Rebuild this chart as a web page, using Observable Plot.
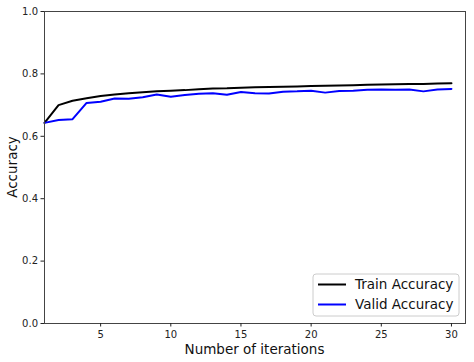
<!DOCTYPE html>
<html>
<head>
<meta charset="utf-8">
<script src="https://cdn.jsdelivr.net/npm/d3@7"></script>
<script src="https://cdn.jsdelivr.net/npm/@observablehq/plot@0.6"></script>
<style>
  body { margin: 0; background: #fff; }
  #chart svg { font-family: "DejaVu Sans", sans-serif; }
</style>
</head>
<body>
<div id="chart"></div>
<script>
const iterations = d3.range(1, 31);
const trainAccuracy = [0.643, 0.700, 0.714, 0.722, 0.729, 0.734, 0.738, 0.741, 0.744, 0.746,
  0.748, 0.751, 0.753, 0.754, 0.756, 0.757, 0.758, 0.759, 0.760, 0.761,
  0.762, 0.763, 0.764, 0.765, 0.766, 0.767, 0.768, 0.768, 0.769, 0.770];
const validAccuracy = [0.643, 0.652, 0.655, 0.707, 0.711, 0.721, 0.720, 0.725, 0.734, 0.727,
  0.732, 0.736, 0.738, 0.733, 0.742, 0.738, 0.737, 0.743, 0.744, 0.746,
  0.740, 0.745, 0.746, 0.749, 0.750, 0.749, 0.750, 0.744, 0.750, 0.752];
const seriesNames = ["Train Accuracy", "Valid Accuracy"];
const seriesColors = ["#000000", "#0000ff"];
const xTicks = [5, 10, 15, 20, 25, 30];
const yTicks = [0, 0.2, 0.4, 0.6, 0.8, 1.0];

const rows = [];
iterations.forEach((it, i) => {
  rows.push({iter: it, acc: trainAccuracy[i], series: seriesNames[0]});
  rows.push({iter: it, acc: validAccuracy[i], series: seriesNames[1]});
});

const W = 474, H = 362;
const mL = 44, mT = 11, mR = 9, mB = 39;

const plot = Plot.plot({
  width: W, height: H,
  marginLeft: mL, marginTop: mT, marginRight: mR, marginBottom: mB,
  style: {fontFamily: "DejaVu Sans, sans-serif", fontSize: "10px", color: "#222", background: "#fff"},
  x: {domain: [1, 31], ticks: xTicks, tickSize: 3.5, tickFormat: d => String(d), label: null},
  y: {domain: [0, 1], ticks: yTicks, tickSize: 3.5, tickFormat: d => d.toFixed(1), label: null},
  color: {domain: seriesNames, range: seriesColors},
  marks: [
    Plot.line(rows, {x: "iter", y: "acc", z: "series", stroke: "series", strokeWidth: 2}),
    Plot.frame({stroke: "#444", strokeWidth: 1}),
    Plot.axisX({ticks: xTicks, tickSize: 3.5, tickPadding: 4, fontSize: 10, label: null}),
    Plot.axisY({ticks: yTicks, tickSize: 3.5, tickPadding: 3, fontSize: 10, tickFormat: d => d.toFixed(1), label: null})
  ]
});
document.getElementById("chart").appendChild(plot);

const svg = d3.select(plot);
// axis titles
svg.append("text").attr("x", mL + (W - mL - mR) / 2).attr("y", H - 8)
  .attr("text-anchor", "middle").attr("font-size", 13.5).attr("fill", "#111")
  .text("Number of iterations");
svg.append("text").attr("transform", `translate(17,${mT + (H - mT - mB) / 2}) rotate(-90)`)
  .attr("text-anchor", "middle").attr("font-size", 13.5).attr("fill", "#111")
  .text("Accuracy");

// legend
const lg = svg.append("g").attr("transform", "translate(313,274)");
lg.append("rect").attr("x", 0).attr("y", 0).attr("width", 146).attr("height", 42).attr("rx", 3)
  .attr("fill", "#ffffff").attr("stroke", "#cccccc").attr("stroke-width", 1);
seriesNames.forEach((name, i) => {
  const y = 10.5 + i * 20;
  lg.append("line").attr("x1", 5).attr("x2", 33).attr("y1", y).attr("y2", y)
    .attr("stroke", seriesColors[i]).attr("stroke-width", 2);
  lg.append("text").attr("x", 42).attr("y", y).attr("dy", "0.35em")
    .attr("text-anchor", "start")
    .attr("font-size", 13.5).attr("fill", "#111").text(name);
});
</script>
</body>
</html>
